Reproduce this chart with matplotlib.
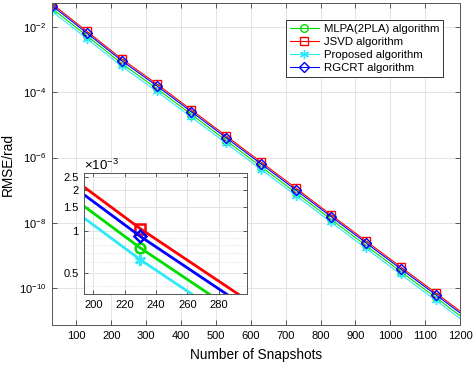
import matplotlib
matplotlib.use('Agg')
import matplotlib.pyplot as plt
from matplotlib.ticker import FixedLocator, FixedFormatter, LogLocator, NullFormatter

plt.rcParams['font.family'] = ['Liberation Sans', 'DejaVu Sans']
plt.rcParams['mathtext.fontset'] = 'custom'
plt.rcParams['mathtext.rm'] = 'Liberation Sans'

# snapshots (markers every 100, line runs to 1200)
snapshots = [30, 130, 230, 330, 430, 530, 630, 730, 830, 930, 1030, 1130, 1200]

mlpa = [3.68e-2, 5.32e-3, 7.58e-4, 1.30e-4, 2.07e-5, 3.28e-6, 5.20e-7,
        8.24e-8, 1.28e-8, 2.02e-9, 3.21e-10, 5.20e-11, 1.43e-11]
jsvd = [5.09e-2, 7.35e-3, 1.047e-3, 1.80e-4, 2.86e-5, 4.53e-6, 7.18e-7,
        1.14e-7, 1.76e-8, 2.79e-9, 4.43e-10, 7.18e-11, 1.98e-11]
proposed = [3.02e-2, 4.37e-3, 6.22e-4, 1.07e-4, 1.70e-5, 2.69e-6, 4.27e-7,
            6.76e-8, 1.05e-8, 1.66e-9, 2.63e-10, 4.27e-11, 1.18e-11]
rgcrt = [4.47e-2, 6.46e-3, 9.20e-4, 1.58e-4, 2.51e-5, 3.98e-6, 6.31e-7,
         1.00e-7, 1.55e-8, 2.45e-9, 3.89e-10, 6.31e-11, 1.74e-11]

labels = ['MLPA(2PLA) algorithm', 'JSVD algorithm', 'Proposed algorithm', 'RGCRT algorithm']
xticks = [100, 200, 300, 400, 500, 600, 700, 800, 900, 1000, 1100, 1200]
yticks = [1e-10, 1e-8, 1e-6, 1e-4, 1e-2]
inset_xticks = [200, 220, 240, 260, 280]
inset_yticks = [0.5e-3, 1e-3, 1.5e-3, 2e-3, 2.5e-3]
inset_ylabels = ['0.5', '1', '1.5', '2', '2.5']

series = [mlpa, jsvd, proposed, rgcrt]
colors = ['#00dd00', '#ff0000', '#30e8f8', '#0000ff']
markers = ['o', 's', (6, 2, 0), 'D']
msizes = [5.5, 5.5, 6.5, 5]

spine_c = '#555555'
grid_c = '#e4e4e4'

fig = plt.figure(figsize=(4.74, 3.66), dpi=100)
ax = fig.add_axes([0.1097, 0.112, 0.8608, 0.8798])

for y, c, m, ms, lab in zip(series, colors, markers, msizes, labels):
    ax.semilogy(snapshots, y, color=c, lw=0.8, marker=m, ms=ms, mfc='none',
                mec=c, mew=1.0, markevery=slice(0, 12), label=lab)

ax.set_xlim(30, 1200)
ax.set_ylim(7.4e-12, 5.4e-2)
ax.xaxis.set_major_locator(FixedLocator(xticks))
ax.yaxis.set_major_locator(FixedLocator(yticks))
ax.yaxis.set_major_formatter(FixedFormatter(
    ['$\\mathregular{10^{%d}}$' % e for e in [-10, -8, -6, -4, -2]]))
ax.yaxis.set_minor_locator(FixedLocator([]))
ax.yaxis.set_minor_formatter(NullFormatter())
ax.tick_params(direction='in', length=3.5, width=0.7, color=spine_c,
               labelsize=8, top=True, right=True, pad=4)
ax.grid(True, color=grid_c, lw=0.7)
ax.set_axisbelow(True)
for s in ax.spines.values():
    s.set_color(spine_c)
    s.set_linewidth(0.7)
ax.set_xlabel('Number of Snapshots', fontsize=9.8, labelpad=5)
ax.set_ylabel('RMSE/rad', fontsize=9.8, labelpad=3)

leg = ax.legend(loc='upper right', bbox_to_anchor=(0.947, 0.962),
                bbox_transform=fig.transFigure, fontsize=8.2, frameon=True,
                fancybox=False, framealpha=1, edgecolor='#333333',
                handlelength=2.6, labelspacing=0.28, borderpad=0.35,
                handletextpad=0.4)
leg.get_frame().set_linewidth(0.7)

# inset zoom
axin = fig.add_axes([0.1772, 0.1967, 0.3439, 0.3306])
for y, c, m, ms in zip(series, colors, markers, msizes):
    axin.semilogy(snapshots, y, color=c, lw=2.0, marker=m, ms=ms + 1.5,
                  mfc='none', mec=c, mew=1.8, markevery=[2])
axin.set_xlim(194, 298)
axin.set_ylim(0.35e-3, 2.67e-3)
axin.xaxis.set_major_locator(FixedLocator(inset_xticks))
axin.yaxis.set_major_locator(FixedLocator(inset_yticks))
axin.yaxis.set_major_formatter(FixedFormatter(inset_ylabels))
axin.yaxis.set_minor_locator(LogLocator(base=10, subs=[2, 3, 4, 5, 6, 7, 8, 9]))
axin.yaxis.set_minor_formatter(NullFormatter())
axin.tick_params(which='both', direction='in', length=3, width=0.7,
                 color=spine_c, labelsize=8, top=True, right=True, pad=4)
axin.tick_params(which='minor', length=0)
axin.grid(True, which='major', color=grid_c, lw=0.7)
axin.grid(True, which='minor', axis='y', color='#d8d8d8', lw=0.6, ls=':')
axin.set_axisbelow(True)
for s in axin.spines.values():
    s.set_color(spine_c)
    s.set_linewidth(0.7)
axin.text(0.0, 1.0, '$\\times\\mathregular{10^{-3}}$', transform=axin.transAxes,
          fontsize=9.5, ha='left', va='bottom')

fig.savefig('out.png', dpi=100)
